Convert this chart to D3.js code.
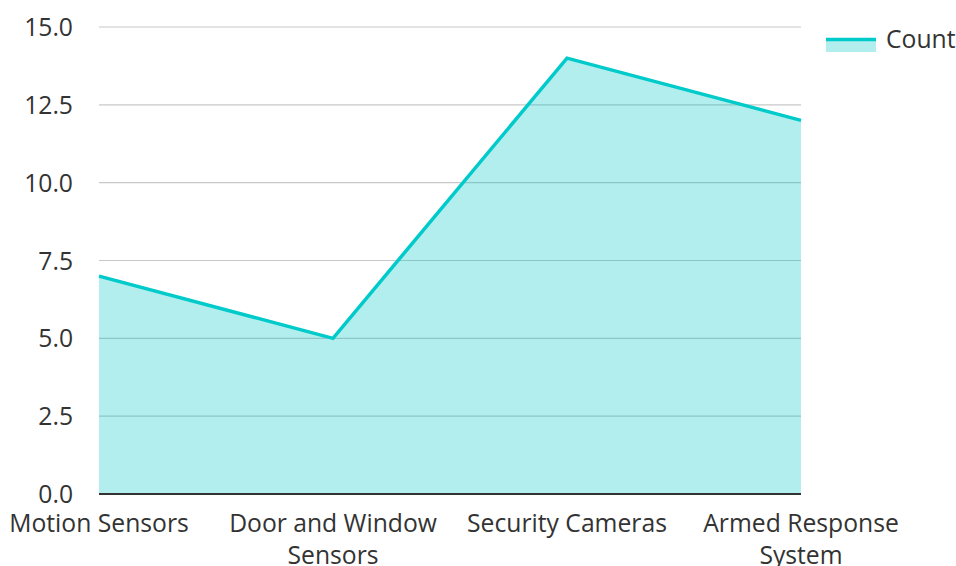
<!DOCTYPE html>
<html><head><meta charset="utf-8">
<script src="https://cdn.jsdelivr.net/npm/d3@7"></script>
<style>
body{margin:0;background:#fff;}
text{font-family:"Open Sans",sans-serif;fill:#333;}
</style></head>
<body><svg id="c" width="956" height="566"></svg>
<script>
const categories = ["Motion Sensors","Door and Window Sensors","Security Cameras","Armed Response System"];
const counts = [7,5,14,12];
const yTicks = [0,2.5,5,7.5,10,12.5,15];
const seriesName = "Count";

(function(){
const svg = d3.select("#c");
const mLeft = 99, mRight = 801, mTop = 27, mBottom = 494;
const fs = "24.7px";
const x = d3.scalePoint().domain(categories).range([mLeft,mRight]).padding(0);
const y = d3.scaleLinear().domain([0,15]).range([mBottom,mTop]);
const lineColor = "#00caca";
const fillColor = "rgba(0,200,200,0.3)";

// grid
svg.append("g").selectAll("line").data(yTicks.filter(d=>d>0)).join("line")
  .attr("x1",mLeft).attr("x2",mRight).attr("y1",d=>y(d)).attr("y2",d=>y(d))
  .attr("stroke","#c8c8c8").attr("stroke-width",1.2);

// y axis labels
const ya = svg.append("g").attr("transform",`translate(${mLeft},0)`)
  .call(d3.axisLeft(y).tickValues(yTicks).tickFormat(d3.format(".1f")).tickSize(0).tickPadding(26));
ya.select(".domain").remove();
ya.selectAll("text").style("font-size",fs).attr("fill","#333").attr("dy","0.35em");

// area
const pts = categories.map((c,i)=>({c,v:counts[i]}));
svg.append("path").datum(pts)
  .attr("d",d3.area().x(d=>x(d.c)).y0(y(0)).y1(d=>y(d.v)))
  .attr("fill",fillColor);
svg.append("path").datum(pts)
  .attr("d",d3.line().x(d=>x(d.c)).y(d=>y(d.v)))
  .attr("fill","none").attr("stroke",lineColor).attr("stroke-width",3.5).attr("stroke-linejoin","miter");

// baseline
svg.append("line").attr("x1",mLeft).attr("x2",mRight).attr("y1",mBottom).attr("y2",mBottom)
  .attr("stroke","#333").attr("stroke-width",2);

// x labels with wrapping
const xa = svg.append("g").attr("transform",`translate(0,${mBottom})`)
  .call(d3.axisBottom(x).tickSize(0).tickPadding(0));
xa.select(".domain").remove();
xa.selectAll(".tick").attr("transform",null);
xa.selectAll("text").style("font-size",fs).attr("fill","#333").attr("dy",null).attr("y",0)
  .each(function(d){
    const t = d3.select(this);
    const words = d.split(" ");
    const maxW = 240;
    let lines = [], cur = [];
    t.text(null);
    const tmp = t.append("tspan");
    for (const w of words){
      cur.push(w);
      tmp.text(cur.join(" "));
      if (tmp.node().getComputedTextLength() > maxW && cur.length>1){
        cur.pop(); lines.push(cur.join(" ")); cur=[w];
      }
    }
    lines.push(cur.join(" "));
    tmp.remove();
    lines.forEach((l,i)=>t.append("tspan").attr("x",x(d)).attr("y",38+i*32).text(l));
  });

// legend
const lg = svg.append("g");
lg.append("rect").attr("x",826).attr("y",40).attr("width",50).attr("height",12).attr("fill",fillColor);
lg.append("line").attr("x1",826).attr("x2",876).attr("y1",39.5).attr("y2",39.5).attr("stroke",lineColor).attr("stroke-width",3.5);
lg.append("text").attr("x",886).attr("y",48).style("font-size",fs).attr("fill","#333").text(seriesName);
})();
</script></body></html>
